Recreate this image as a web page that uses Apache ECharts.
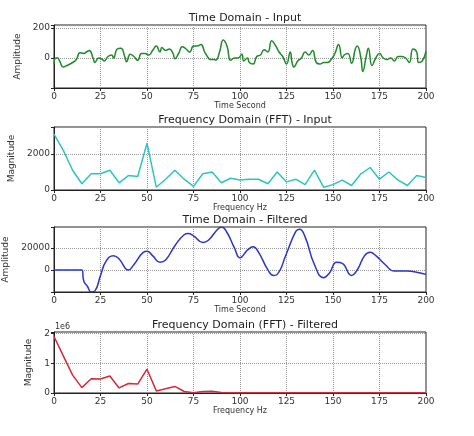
<!DOCTYPE html><html><head><meta charset="utf-8"><script src="https://cdn.jsdelivr.net/npm/echarts@6/dist/echarts.min.js"></script>
<style>body{margin:0;background:#fff}#c{width:474px;height:436px}</style></head><body><div id="c"></div><script>
const tdInX=[0,1,2,3,5,7,10,12,14,16,18,19,21,22,24,26,27,29,31,32,34,36,38,39,41,43,45,47,49,51,53,55,57,58,60,62,64,65,67,69,71,73,75,77,79,81,83,84,86,87,89,91,93,95,97,99,101,102,104,105,107,109,111,113,115,117,119,121,123,125,127,128,129,131,133,135,137,139,141,143,145,147,149,151,153,155,156,158,160,162,163,165,166,168,169,171,173,175,177,179,181,183,185,187,189,191,193,195,196,198,200];
const tdInY=[-40,0,0,-20,-60,-50,-30,-10,35,30,45,50,0,-30,0,-10,-20,10,20,0,60,65,10,-25,25,10,-15,30,30,20,50,80,40,70,50,60,30,-5,30,75,60,40,80,80,90,40,0,-10,-10,-15,40,120,80,-15,0,0,25,-20,0,-30,-40,10,20,55,40,115,85,40,10,-40,40,-30,-60,-20,0,40,20,50,-30,-40,-30,-30,-10,30,90,0,20,30,-35,60,80,0,-90,20,65,-50,0,30,0,-10,0,-20,10,10,0,-30,60,40,-30,-20,45];
const fftInY=[3100,2200,1100,350,900,900,1100,400,800,750,2600,150,600,1100,600,200,900,1000,400,650,550,600,600,350,1000,450,600,300,1100,150,300,550,250,900,1250,600,1000,550,250,800,700];
const tdFX=[0,15,16,18,20,22,25,28,32,35,40,43,48,50,53,57,60,65,70,72,75,80,83,88,90,93,97,100,104,107,110,115,118,120,125,130,132,135,140,145,148,152,155,160,163,167,170,173,178,183,190,195,200];
const tdFY=[0,0,-10000,-15000,-20000,-19000,-5000,8000,13000,10000,0,5000,16000,17000,13000,7000,9000,22000,32000,33000,31000,25000,27000,37000,39000,34000,20000,11000,18000,21000,16000,0,-5000,-4000,15000,35000,37000,30000,5000,-7000,-3000,7000,6000,-5000,0,13000,16000,13000,5000,-1000,-1000,-2000,-4000];
const fftFY=[1.9,1.25,0.6,0.18,0.48,0.47,0.57,0.17,0.32,0.3,0.8,0.07,0.14,0.22,0.05,0.01,0.05,0.06,0.02,0.01,0.01,0.01,0.01,0.01,0.01,0.01,0.01,0.01,0.01,0.01,0.01,0.01,0.01,0.01,0.01,0.01,0.01,0.01,0.01,0.01,0.01];
const freqX=fftInY.map((_,i)=>i*5);
const titles=['Time Domain - Input','Frequency Domain (FFT) - Input','Time Domain - Filtered','Frequency Domain (FFT) - Filtered'];
const xNames=['Time Second','Frequency Hz','Time Second','Frequency Hz'];
const yNames=['Amplitude','Magnitude','Amplitude','Magnitude'];
const colors=['#1f8a2a','#2ec4c4','#2b35c8','#d42a3a'];
const tops=[25,127,227,332],bottoms=[88,190,292,393];
const yr=[[-200,220,200],[0,3500,2000],[-20000,39000,20000],[0,2.05,1]];
const ds=[tdInX.map((x,i)=>[x,tdInY[i]]),freqX.map((x,i)=>[x,fftInY[i]]),tdFX.map((x,i)=>[x,tdFY[i]]),freqX.map((x,i)=>[x,fftFY[i]])];
const txt={color:'#333',fontSize:9,fontFamily:'DejaVu Sans'};
const opt={animation:false,title:[],grid:[],xAxis:[],yAxis:[],series:[],graphic:[{type:'text',left:55,top:323,style:{text:'1e6',fontSize:8,fill:'#333',fontFamily:'DejaVu Sans'}}]};
for(let i=0;i<4;i++){
 const iv=yr[i][2];
 opt.title.push({text:titles[i],left:240,textAlign:'center',top:tops[i]-17,textStyle:{fontSize:11,fontWeight:'normal',color:'#222',fontFamily:'DejaVu Sans'}});
 opt.grid.push({left:54,width:372,top:tops[i],height:bottoms[i]-tops[i],show:true,borderColor:'#222',borderWidth:1,containLabel:false,outerBoundsMode:'none'});
 opt.xAxis.push({type:'value',gridIndex:i,min:0,max:200,interval:25,name:xNames[i],nameLocation:'middle',nameGap:12,nameTextStyle:{fontSize:8,color:'#333',fontFamily:'DejaVu Sans'},axisLine:{onZero:false,lineStyle:{color:'#222'}},axisTick:{show:true,length:3,lineStyle:{color:'#222'}},axisLabel:Object.assign({margin:4},txt),splitLine:{show:true,lineStyle:{type:'dotted',color:'#999'}}});
 opt.yAxis.push({type:'value',gridIndex:i,min:yr[i][0],max:yr[i][1],interval:iv,name:yNames[i],nameLocation:'middle',nameGap:i==2?32:(i==3?20:28),nameTextStyle:{fontSize:9,color:'#333',fontFamily:'DejaVu Sans'},axisLine:{show:true,onZero:false,lineStyle:{color:'#222'}},axisTick:{show:true,length:3,lineStyle:{color:'#222'}},axisLabel:Object.assign({margin:4,formatter:v=>(Math.abs(v/iv-Math.round(v/iv))<1e-6 && !(i==0&&v<0) && !(i==2&&v<0))?String(v):''},txt),splitLine:{show:true,lineStyle:{type:'dotted',color:'#999'}}});
 opt.series.push({type:'line',xAxisIndex:i,yAxisIndex:i,data:ds[i],smooth:(i==0||i==2)?0.5:false,symbol:'none',lineStyle:{color:colors[i],width:1.5}});
}
echarts.init(document.getElementById('c')).setOption(opt);
</script></body></html>
